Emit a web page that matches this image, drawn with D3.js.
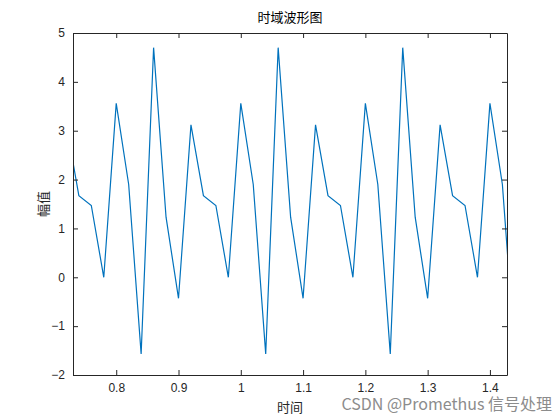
<!DOCTYPE html>
<html><head><meta charset="utf-8">
<script src="https://cdn.jsdelivr.net/npm/d3@7"></script>
<style>body{margin:0;background:#fff}text{font-family:"Noto Sans CJK SC",Arial,sans-serif}</style>
</head><body><svg id="c" width="560" height="420"></svg>
<script>
const times = [0.72,0.74,0.76,0.78,0.80,0.82,0.84,0.86,0.88,0.90,0.92,0.94,0.96,0.98,1.00,1.02,1.04,1.06,1.08,1.10,1.12,1.14,1.16,1.18,1.20,1.22,1.24,1.26,1.28,1.30,1.32,1.34,1.36,1.38,1.40,1.42,1.44];
const amps = [3.12,1.67,1.47,0.0,3.56,1.9,-1.57,4.7,1.23,-0.43,3.12,1.67,1.47,0.0,3.56,1.9,-1.57,4.7,1.23,-0.43,3.12,1.67,1.47,0.0,3.56,1.9,-1.57,4.7,1.23,-0.43,3.12,1.67,1.47,0.0,3.56,1.9,-1.57];
const xTicks = [0.8,0.9,1.0,1.1,1.2,1.3,1.4];
const yTicks = [-2,-1,0,1,2,3,4,5];
const svg = d3.select("#c");
const L=73,R=507,T=33,B=375;
const x = d3.scaleLinear().domain([0.7306,1.4274]).range([L,R]);
const y = d3.scaleLinear().domain([-2,5]).range([B,T]);
svg.append("clipPath").attr("id","clip").append("rect").attr("x",L).attr("y",T).attr("width",R-L).attr("height",B-T);
svg.append("path").datum(times.map((t,i)=>[t,amps[i]])).attr("clip-path","url(#clip)")
  .attr("fill","none").attr("stroke","#0072BD").attr("stroke-width",1.2)
  .attr("d",d3.line().x(d=>x(d[0])).y(d=>y(d[1])));
const ax = (g)=>g.selectAll("path").attr("stroke","#262626");
svg.append("g").attr("transform",`translate(0,${B})`).call(d3.axisBottom(x).tickValues(xTicks).tickSizeInner(-5).tickSizeOuter(0).tickPadding(8).tickFormat(d3.format("~g"))).call(ax);
svg.append("g").attr("transform",`translate(0,${T})`).call(d3.axisTop(x).tickValues(xTicks).tickSizeInner(-5).tickSizeOuter(0).tickFormat("")).call(ax);
svg.append("g").attr("transform",`translate(${L},0)`).call(d3.axisLeft(y).tickValues(yTicks).tickSizeInner(-5).tickSizeOuter(0).tickPadding(8).tickFormat(d3.format("~g"))).call(ax);
svg.append("g").attr("transform",`translate(${R},0)`).call(d3.axisRight(y).tickValues(yTicks).tickSizeInner(-5).tickSizeOuter(0).tickFormat("")).call(ax);
svg.selectAll(".tick line").attr("stroke","#262626");
svg.selectAll(".tick text").attr("fill","#262626").style("font-size","12px").style("font-family","Arial, 'Liberation Sans', sans-serif");
svg.append("text").attr("x",290).attr("y",22).attr("text-anchor","middle").style("font-size","13px").attr("fill","#000").text("时域波形图");
svg.append("text").attr("x",290).attr("y",412).attr("text-anchor","middle").style("font-size","13px").attr("fill","#262626").text("时间");
svg.append("text").attr("transform","translate(48,204) rotate(-90)").attr("text-anchor","middle").style("font-size","13px").attr("fill","#262626").text("幅值");
svg.append("text").attr("x",552).attr("y",410).attr("text-anchor","end").style("font-size","16px").attr("fill","#8c8c8c").text("CSDN @Promethus 信号处理");
</script></body></html>
